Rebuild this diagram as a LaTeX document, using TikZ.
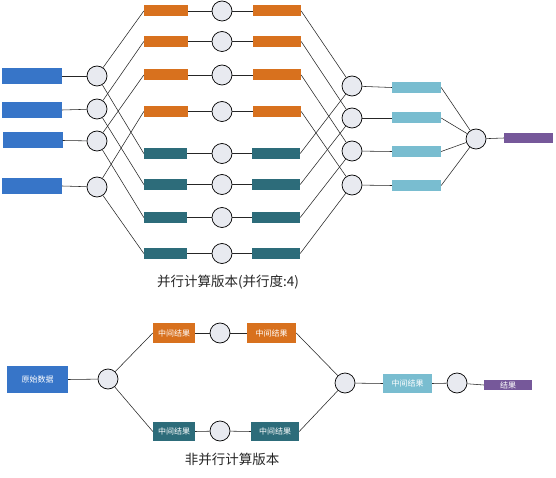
\documentclass[tikz,border=0pt]{standalone}
\usepackage{fontspec}
\newfontfamily\cjk{Noto Sans CJK SC}
\definecolor{cblue}{HTML}{3775C8}
\definecolor{corange}{HTML}{D8711E}
\definecolor{cteal}{HTML}{2D6C7A}
\definecolor{clight}{HTML}{79BDD0}
\definecolor{cpurple}{HTML}{76589A}
\definecolor{ccircle}{HTML}{E8EAF0}
\tikzset{
  bar/.style={rectangle, inner sep=0pt, draw=none, minimum width=#1},
  circ/.style={circle, draw=black, line width=0.7pt, fill=ccircle, minimum size=20pt, inner sep=0pt},
  link/.style={draw=black!85, line width=0.55pt},
  lab/.style={text=white, font=\cjk\fontsize{8}{9}\selectfont},
  ttl/.style={font=\cjk\fontsize{13.5}{15}\selectfont, text=black!85}
}
\begin{document}
\begin{tikzpicture}[x=1pt,y=-1pt]
\useasboundingbox[fill=white] (0,0) rectangle (556,478);
% ---------- top: parallel ----------
\foreach \i/\y/\x in {1/76/32,2/110/32,3/140.5/32.5,4/186/32}{
  \node[bar=60pt, minimum height=16pt, fill=cblue] (b\i) at (\x,\y) {};
}
\foreach \i/\y in {1/76,2/109,3/141,4/187}{
  \node[circ] (c\i) at (97,\y) {};
}
\foreach \i/\y in {1/11,2/41.5,3/75,4/111.5}{
  \node[bar=44pt, minimum height=11pt, fill=corange] (oa\i) at (166,\y) {};
  \node[circ] (om\i) at (222,\y) {};
  \node[bar=48pt, minimum height=11pt, fill=corange] (ob\i) at (277,\y) {};
}
\foreach \i/\y in {1/153.5,2/184.5,3/217.5,4/253.5}{
  \node[bar=43pt, minimum height=11pt, fill=cteal] (ta\i) at (165.5,\y) {};
  \node[circ] (tm\i) at (222,\y) {};
  \node[bar=48pt, minimum height=11pt, fill=cteal] (tb\i) at (276,\y) {};
}
\foreach \i/\y in {1/86,2/118,3/151,4/185}{
  \node[circ] (d\i) at (352,\y) {};
}
\foreach \i/\y in {1/87.5,2/118,3/151.5,4/185.5}{
  \node[bar=49pt, minimum height=11pt, fill=clight] (l\i) at (416.5,\y) {};
}
\node[circ] (f) at (476,139) {};
\node[bar=49pt, minimum height=10pt, fill=cpurple] (p) at (528.5,138) {};
\foreach \i in {1,2,3,4}{
  \draw[link] (b\i.east) -- (c\i);
  \draw[link] (c\i) -- (oa\i.west);
  \draw[link] (c\i) -- (ta\i.west);
  \draw[link] (oa\i.east) -- (om\i) -- (ob\i.west);
  \draw[link] (ta\i.east) -- (tm\i) -- (tb\i.west);
  \draw[link] (ob\i.east) -- (d\i);
  \draw[link] (tb\i.east) -- (d\i);
  \draw[link] (d\i) -- (l\i.west);
  \draw[link] (l\i.east) -- (f);
}
\draw[link] (f) -- (p.west);
\node[ttl] (t1) at (228,282) {并行计算版本(并行度:4)};
% ---------- bottom: non-parallel ----------
\node[bar=61pt, minimum height=27pt, fill=cblue, lab] (src) at (37.5,379.5) {原始数据};
\node[circ] (s1) at (108,379) {};
\node[bar=42pt, minimum height=20pt, fill=corange, lab] (o1) at (174,333) {中间结果};
\node[circ] (s2) at (220,333) {};
\node[bar=49pt, minimum height=20pt, fill=corange, lab] (o2) at (271.5,333) {中间结果};
\node[bar=42pt, minimum height=19pt, fill=cteal, lab] (u1) at (174,431.5) {中间结果};
\node[circ] (s3) at (220,431) {};
\node[bar=48pt, minimum height=19pt, fill=cteal, lab] (u2) at (275,431.5) {中间结果};
\node[circ] (s4) at (345,383) {};
\node[bar=49pt, minimum height=19pt, fill=clight, lab] (m) at (407.5,383.5) {中间结果};
\node[circ] (s5) at (457,383) {};
\node[bar=48pt, minimum height=10pt, fill=cpurple, lab] (r) at (508,385) {结果};
\draw[link] (src.east) -- (s1);
\draw[link] (s1) -- (o1.west);
\draw[link] (s1) -- (u1.west);
\draw[link] (o1.east) -- (s2) -- (o2.west);
\draw[link] (u1.east) -- (s3) -- (u2.west);
\draw[link] (o2.east) -- (s4);
\draw[link] (u2.east) -- (s4);
\draw[link] (s4) -- (m.west);
\draw[link] (m.east) -- (s5) -- (r.west);
\node[ttl] (t2) at (232,459) {非并行计算版本};
\end{tikzpicture}
\end{document}
